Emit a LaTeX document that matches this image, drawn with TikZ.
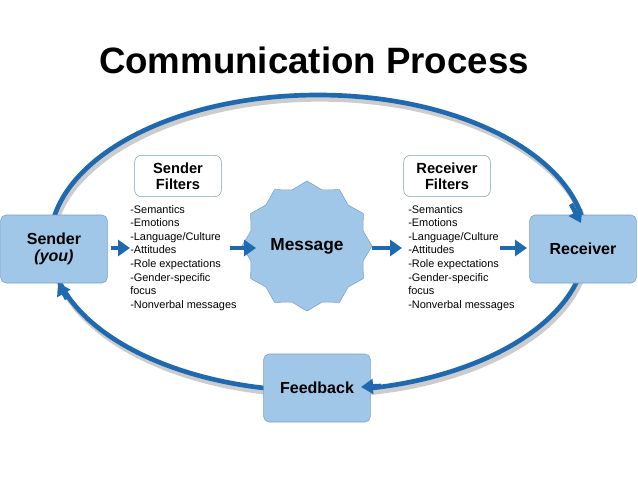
\documentclass[tikz,border=0pt]{standalone}
\usepackage{fontspec}
\setmainfont{Liberation Sans}
\usetikzlibrary{shapes.geometric,arrows.meta}
\definecolor{cblue}{RGB}{30,105,175}
\definecolor{boxfill}{RGB}{160,198,232}
\definecolor{boxline}{RGB}{120,160,200}
\tikzset{
  mainbox/.style={draw=boxline, fill=boxfill, rounded corners=4pt, minimum width=80pt, minimum height=51pt, font=\bfseries\fontsize{12}{14}\selectfont, align=center},
  filterbox/.style={draw=boxline, fill=white, rounded corners=5pt, minimum width=65pt, minimum height=31pt, font=\bfseries\fontsize{11}{12}\selectfont, align=center, inner sep=1pt},
  list/.style={anchor=north west, align=left, font=\fontsize{8.2}{10.2}\selectfont, inner sep=0pt},
  loop/.style={cblue, line width=3.5pt, -{Triangle[length=9pt,width=11pt]}},
  flowarrow/.style={cblue, line width=3pt, -{Triangle[length=9pt,width=12pt]}},
  shadowline/.style={gray!40, line width=4pt}
}
\begin{document}
\begin{tikzpicture}[x=0.75pt,y=-0.75pt]
\useasboundingbox (0,0) rectangle (638,478);
\node[font=\bfseries\fontsize{27.5}{30}\selectfont] (title) at (314,60) {Communication Process};
% loop
\draw[shadowline] (320,247) ellipse [x radius=268, y radius=148];
\draw[cblue, line width=3.5pt] (318,243) ellipse [x radius=268, y radius=148];
\node[mainbox] (snd) at (54,249) {Sender\\[-1pt]\itshape (you)};
\node[mainbox] (rcv) at (583,249) {Receiver};
\node[mainbox] (fb) at (317,388) {Feedback};
\coordinate (rin) at (581,223);
\coordinate (fin) at (361,387);
\coordinate (sin) at (58,283);
\draw[loop] (571,204) -- (rin);
\draw[loop] (381,386) -- (fin);
\draw[loop] (67,299) -- (sin);
\node[star, star points=12, star point ratio=1.12, draw=boxline, fill=boxfill, minimum size=92pt, font=\bfseries\fontsize{13}{15}\selectfont] (msg) at (307,246) {Message};
\node[filterbox] (sf) at (178,176) {Sender\\Filters};
\node[filterbox] (rf) at (447,176) {Receiver\\Filters};
\node[list] (sl) at (130,205) {-Semantics\\-Emotions\\-Language/Culture\\-Attitudes\\-Role expectations\\-Gender-specific\\focus\\-Nonverbal messages};
\node[list] (rl) at (408,205) {-Semantics\\-Emotions\\-Language/Culture\\-Attitudes\\-Role expectations\\-Gender-specific\\focus\\-Nonverbal messages};
\coordinate (a1) at (130,248);
\coordinate (a2) at (256,248);
\coordinate (a3) at (402,248);
\coordinate (a4) at (527,248);
\draw[flowarrow] (snd.east) ++(3,-1) -- (a1);
\draw[flowarrow] (230,248) -- (a2);
\draw[flowarrow] (372,248) -- (a3);
\draw[flowarrow] (500,248) -- (a4);
\end{tikzpicture}
\end{document}
